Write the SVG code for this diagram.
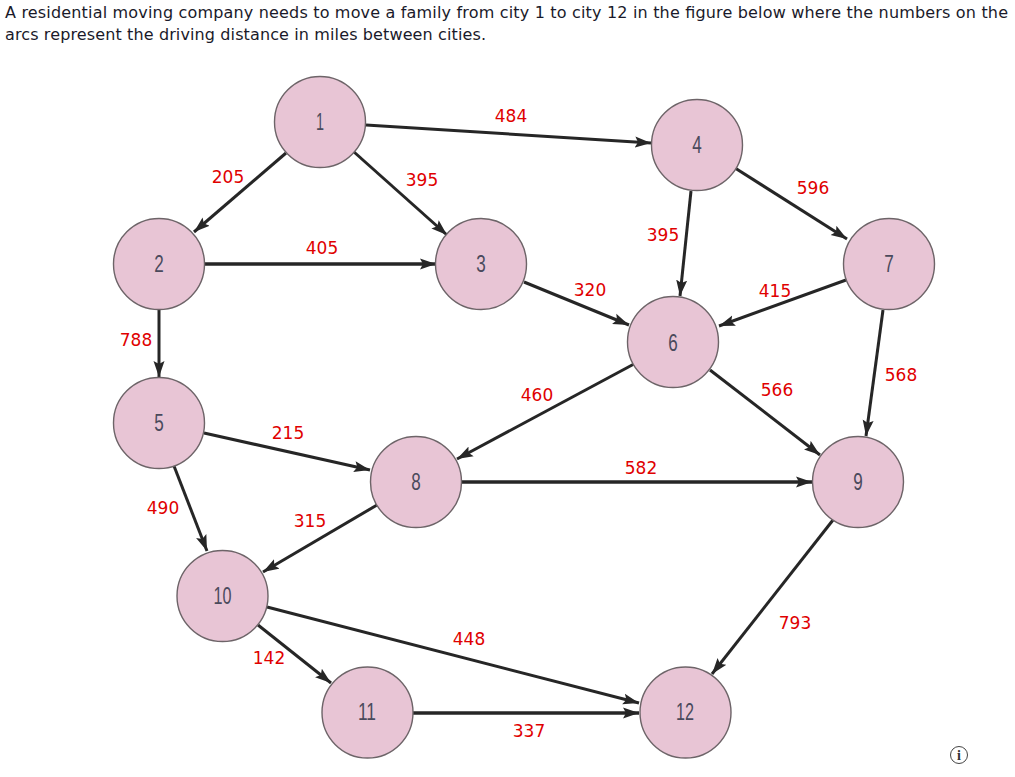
<svg xmlns="http://www.w3.org/2000/svg" width="1015" height="777" viewBox="0 0 1015 777">
<style>
.n{fill:#e8c5d5;stroke:#6d6468;stroke-width:1.4}
.t{font-family:"Liberation Sans",sans-serif;font-size:23px;fill:#4a4a5c;text-anchor:middle}
.l{font-family:"DejaVu Sans",Verdana,sans-serif;font-size:17px;fill:#e00000;text-anchor:middle}
.q{font-family:"DejaVu Sans",Verdana,sans-serif;font-size:16px;fill:#1a1a2a}
.c{stroke:#262626;stroke-width:3;fill:none;marker-end:url(#a)}
.h{stroke-width:3.6}
</style>
<defs><marker id="a" markerUnits="userSpaceOnUse" markerWidth="18" markerHeight="12" refX="16" refY="6" orient="auto"><path d="M0 0.5L16 6L0 11.5L3 6Z" fill="#262626"/></marker></defs>
<rect width="1015" height="777" fill="#fff"/>
<text class="q" x="5" y="18" textLength="1003" lengthAdjust="spacing">A residential moving company needs to move a family from city 1 to city 12 in the figure below where the numbers on the</text>
<text class="q" x="5" y="40" textLength="481" lengthAdjust="spacing">arcs represent the driving distance in miles between cities.</text>
<g id="connectors">
<path class="c" d="M286 153L194 232"/>
<path class="c" d="M354 152L447 235"/>
<path class="c" d="M366 125L651 143"/>
<path class="c h" d="M204 264L436 264"/>
<path class="c" d="M159 310L159 377"/>
<path class="c" d="M524 282L629 325"/>
<path class="c" d="M691 191L680 296"/>
<path class="c" d="M735 168L847 239"/>
<path class="c" d="M846 280L719 326"/>
<path class="c" d="M883 310L866 436"/>
<path class="c" d="M710 370L820 455"/>
<path class="c" d="M634 364L457 459"/>
<path class="c" d="M204 433L370 470"/>
<path class="c" d="M174 466L207 551"/>
<path class="c h" d="M461 482L812 482"/>
<path class="c" d="M377 505L263 572"/>
<path class="c" d="M833 520L712 674"/>
<path class="c" d="M267 607L639 703"/>
<path class="c" d="M258 625L331 683"/>
<path class="c h" d="M413 713L639 713"/>
</g>
<g id="node1"><circle class="n" cx="320" cy="122" r="45.5"/><text class="t" x="320" y="130" textLength="8" lengthAdjust="spacingAndGlyphs">1</text></g>
<g id="node2"><circle class="n" cx="159" cy="264" r="45.5"/><text class="t" x="159" y="272" textLength="9.5" lengthAdjust="spacingAndGlyphs">2</text></g>
<g id="node3"><circle class="n" cx="481" cy="264" r="45.5"/><text class="t" x="481" y="272" textLength="9.5" lengthAdjust="spacingAndGlyphs">3</text></g>
<g id="node4"><circle class="n" cx="697" cy="145" r="45.5"/><text class="t" x="697" y="153" textLength="9.5" lengthAdjust="spacingAndGlyphs">4</text></g>
<g id="node5"><circle class="n" cx="159" cy="423" r="45.5"/><text class="t" x="159" y="431" textLength="9.5" lengthAdjust="spacingAndGlyphs">5</text></g>
<g id="node6"><circle class="n" cx="673" cy="342" r="45.5"/><text class="t" x="673" y="351" textLength="9.5" lengthAdjust="spacingAndGlyphs">6</text></g>
<g id="node7"><circle class="n" cx="889" cy="264" r="45.5"/><text class="t" x="889" y="272" textLength="9.5" lengthAdjust="spacingAndGlyphs">7</text></g>
<g id="node8"><circle class="n" cx="416" cy="482" r="45.5"/><text class="t" x="416" y="490" textLength="9.5" lengthAdjust="spacingAndGlyphs">8</text></g>
<g id="node9"><circle class="n" cx="858" cy="482" r="45.5"/><text class="t" x="858" y="490" textLength="9.5" lengthAdjust="spacingAndGlyphs">9</text></g>
<g id="node10"><circle class="n" cx="222.500" cy="596" r="45.5"/><text class="t" x="222.500" y="604" textLength="18" lengthAdjust="spacingAndGlyphs">10</text></g>
<g id="node11"><circle class="n" cx="367.500" cy="712.500" r="45.5"/><text class="t" x="367" y="720" textLength="18" lengthAdjust="spacingAndGlyphs">11</text></g>
<g id="node12"><circle class="n" cx="685.500" cy="712.500" r="45.5"/><text class="t" x="685" y="720" textLength="18" lengthAdjust="spacingAndGlyphs">12</text></g>
<g id="labels">
<text class="l" x="228" y="182.500">205</text>
<text class="l" x="422" y="185.500">395</text>
<text class="l" x="511" y="121.500">484</text>
<text class="l" x="322" y="253.500">405</text>
<text class="l" x="136" y="345.500">788</text>
<text class="l" x="590" y="295.500">320</text>
<text class="l" x="663" y="240.500">395</text>
<text class="l" x="813" y="193.500">596</text>
<text class="l" x="775" y="296.500">415</text>
<text class="l" x="901" y="380.500">568</text>
<text class="l" x="777" y="395.500">566</text>
<text class="l" x="537" y="400.500">460</text>
<text class="l" x="288" y="438.500">215</text>
<text class="l" x="163" y="513.500">490</text>
<text class="l" x="641" y="473.500">582</text>
<text class="l" x="310" y="526.500">315</text>
<text class="l" x="795" y="628.500">793</text>
<text class="l" x="469" y="644.500">448</text>
<text class="l" x="269" y="663.500">142</text>
<text class="l" x="529" y="736.500">337</text>
</g>
<g id="info"><circle cx="959" cy="755" r="8.5" fill="none" stroke="#444" stroke-width="1"/><text x="959" y="760" font-family="'Liberation Serif',serif" font-weight="700" font-size="14" fill="#333" text-anchor="middle">i</text></g>
</svg>
